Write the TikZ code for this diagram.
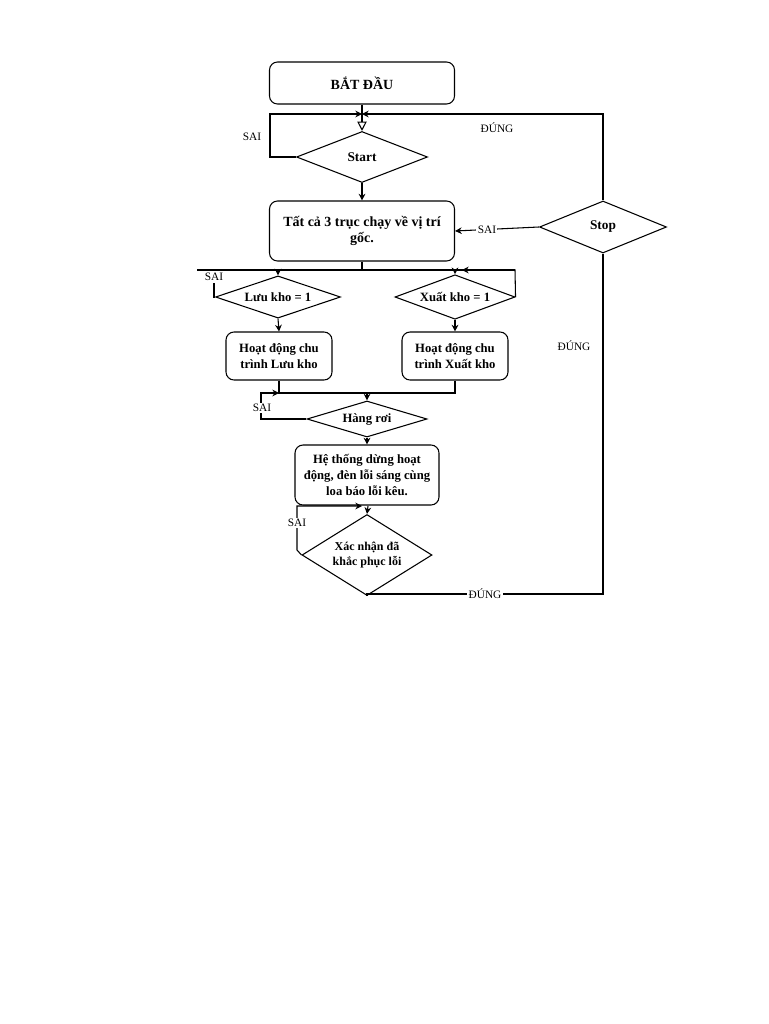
\documentclass[tikz,border=0pt]{standalone}
\usepackage{fontspec}
\setmainfont{Liberation Serif}
\usetikzlibrary{shapes.geometric,arrows.meta}
\begin{document}
\begin{tikzpicture}[x=0.75pt,y=-0.75pt,
  box/.style={draw,rounded corners=6pt,align=center,font=\bfseries\fontsize{10.5}{12.5}\selectfont,inner sep=0},
  dia/.style={draw,diamond,aspect=2,inner sep=0,align=center,font=\bfseries\fontsize{10}{12}\selectfont},
  lbl/.style={font=\fontsize{8.5}{10}\selectfont,inner sep=1pt},
  ar/.style={-{Stealth[length=5pt,width=5pt]}},
  line width=0.8pt]
\useasboundingbox (0,0) rectangle (768,1024);
\node[box,minimum width=185*0.75pt,minimum height=42*0.75pt] (b) at (362,83) {BẮT ĐẦU};
\node[dia,minimum width=131*0.75pt,minimum height=51*0.75pt] (s) at (362,157) {Start};
\node[box,minimum width=185*0.75pt,minimum height=60*0.75pt] (r) at (362,231) {Tất cả 3 trục chạy về vị trí\\gốc.};
\node[dia,minimum width=127*0.75pt,minimum height=52*0.75pt] (st) at (603,227) {Stop};
\node[dia,minimum width=125*0.75pt,minimum height=33*0.75pt,font=\bfseries\fontsize{9.5}{11}\selectfont] (lk) at (278,297) {Lưu kho = 1};
\node[dia,minimum width=120*0.75pt,minimum height=33*0.75pt,font=\bfseries\fontsize{9.5}{11}\selectfont] (xk) at (455,297) {Xuất kho = 1};
\node[box,minimum width=106*0.75pt,minimum height=48*0.75pt,font=\bfseries\fontsize{9.5}{12}\selectfont] (h1) at (279,356) {Hoạt động chu\\trình Lưu kho};
\node[box,minimum width=106*0.75pt,minimum height=48*0.75pt,font=\bfseries\fontsize{9.5}{12}\selectfont] (h2) at (455,356) {Hoạt động chu\\trình Xuất kho};
\node[dia,minimum width=120*0.75pt,minimum height=34*0.75pt,font=\bfseries\fontsize{9.5}{11}\selectfont] (hr) at (367,419) {Hàng rơi};
\node[box,minimum width=144*0.75pt,minimum height=60*0.75pt,font=\bfseries\fontsize{9.5}{12}\selectfont] (ht) at (367,475) {Hệ thống dừng hoạt\\động, đèn lỗi sáng cùng\\loa báo lỗi kêu.};
\node[dia,minimum width=130*0.75pt,minimum height=81*0.75pt,font=\bfseries\fontsize{9}{11}\selectfont] (xn) at (367,555) {Xác nhận đã\\khắc phục lỗi};
\coordinate (j1) at (362,114);
\coordinate (j2) at (362,270);
\coordinate (j3) at (367,393);
\coordinate (j4) at (362,506);
% top
\draw (b.south) -- (j1);
\draw[-{Triangle[open,length=7pt,width=7pt]}] (j1) -- (s.north);
\draw[ar] (s.west) -| (270,114) -- (j1);
\draw[ar] (st.north) |- (j1);
\node[lbl] at (252,137) {SAI};
\node[lbl] at (497,128) {ĐÚNG};
\draw[ar] (s.south) -- (r.north);
\draw[ar] (st.west) -- node[lbl,fill=white,pos=0.62]{SAI} (r.east);
% split
\draw (r.south) -- (j2);
\draw (197,270) -- (515,270);
\draw[ar] (278,270) -- (lk.north);
\draw[ar] (455,270) -- (xk.north);
\draw (lk.west) -- (214,297) -- (214,283);
\node[lbl] at (214,277) {SAI};
\draw[ar] (xk.east) -- (515,270) -- (462,270);
\draw[ar] (lk.south) -- (h1.north);
\draw[ar] (xk.south) -- (h2.north);
\draw (h1.south) |- (j3);
\draw (h2.south) |- (j3);
\draw[ar] (j3) -- (hr.north);
\draw[ar] (hr.west) -- (261,419) -- (261,393) -- (279,393);
\node[lbl,fill=white] at (262,408) {SAI};
\draw[ar] (hr.south) -- (ht.north);
\draw[ar] (xn.west) -- (297,550) -- (297,506) -- (j4);
\draw[ar] (368,506) -- (xn.north);
\node[lbl,fill=white] at (297,523) {SAI};
\draw (xn.south) -- (367,594) -- node[lbl,fill=white,pos=0.5]{ĐÚNG} (603,594) -- (st.south);
\node[lbl] at (574,346) {ĐÚNG};
\end{tikzpicture}
\end{document}
